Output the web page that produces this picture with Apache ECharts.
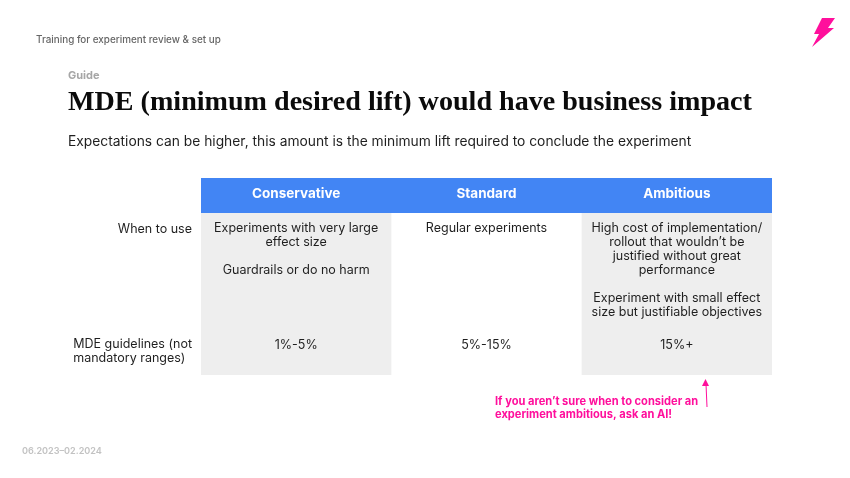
<!DOCTYPE html>
<html>
<head>
<meta charset="utf-8">
<script src="https://cdn.jsdelivr.net/npm/echarts@6/dist/echarts.min.js"></script>
<style>
  html, body { margin: 0; padding: 0; background: #fff; }
  #chart { width: 850px; height: 478px; }
</style>
</head>
<body>
<div id="chart"></div>
<script>
const categories = ['Conservative', 'Standard', 'Ambitious'];
const headerBand = [35, 35, 35];
const bodyBand = [162, 162, 162];
const shaded = [true, false, true];

const whenToUse = [
  'Experiments with very large\neffect size\n\nGuardrails or do no harm',
  'Regular experiments',
  'High cost of implementation/\nrollout that wouldn\u2019t be\njustified without great\nperformance\n\nExperiment with small effect\nsize but justifiable objectives'
];
const mdeRanges = ['1%-5%', '5%-15%', '15%+'];
const rowLabels = ['When to use', 'MDE guidelines (not\nmandatory ranges)'];

const SANS = 'Inter, "Open Sans", sans-serif';
const BODY_SIZE = 12.5;

const chart = echarts.init(document.getElementById('chart'));

// writes one row of cell text, y is in table units measured up from the bottom edge
function cellText(name, texts, y) {
  return {
    type: 'custom',
    name: name,
    silent: true,
    z: 10,
    data: texts.map((t, i) => [i, y]),
    encode: { x: 0, y: 1 },
    renderItem: (params, api) => {
      const p = api.coord([api.value(0), api.value(1)]);
      return {
        type: 'text',
        x: p[0],
        y: p[1],
        style: {
          text: texts[params.dataIndex],
          fill: '#1f1f1f',
          font: BODY_SIZE + 'px ' + SANS,
          lineHeight: 14,
          align: 'center',
          verticalAlign: 'top'
        }
      };
    }
  };
}

const sideText = (text, top) => ({
  type: 'text', right: 850 - 192, top: top,
  style: { text: text, fill: '#1f1f1f', font: BODY_SIZE + 'px ' + SANS, lineHeight: 14, align: 'right' }
});

chart.setOption({
  animation: false,
  backgroundColor: '#ffffff',
  grid: { left: 201, top: 178, width: 571, height: 197 },
  xAxis: {
    type: 'category', data: categories, position: 'top', z: 20,
    axisLine: { show: false }, axisTick: { show: false }, splitLine: { show: false },
    axisLabel: { inside: true, margin: 9, color: '#ffffff', fontFamily: SANS, fontSize: 13.5, fontWeight: 700 }
  },
  yAxis: { type: 'value', min: 0, max: 197, show: false },
  series: [
    {
      type: 'bar', barWidth: '100%', silent: true,
      data: bodyBand.map((v, i) => ({ value: v, itemStyle: { color: shaded[i] ? '#eeeeee' : 'rgba(0,0,0,0)' } }))
    },
    {
      // header cells snap to whole pixels so no seam shows between them
      type: 'custom',
      silent: true,
      z: 5,
      data: headerBand.map((v, i) => [i, bodyBand[i] + v, v]),
      encode: { x: 0, y: 1 },
      renderItem: (params, api) => {
        const p = api.coord([api.value(0), api.value(1)]);
        const s = api.size([1, api.value(2)]);
        const x1 = Math.round(p[0] - s[0] / 2);
        const x2 = Math.round(p[0] + s[0] / 2);
        return {
          type: 'rect',
          shape: { x: x1, y: Math.round(p[1]), width: x2 - x1, height: Math.round(s[1]) },
          style: { fill: '#4285f4' }
        };
      }
    },
    cellText('When to use', whenToUse, 154),
    cellText('MDE guidelines', mdeRanges, 37)
  ],
  graphic: [
    { type: 'text', left: 36, top: 35, style: { text: 'Training for experiment review & set up', fill: '#666666', font: '500 9.9px ' + SANS } },
    { type: 'text', left: 68, top: 70, style: { text: 'Guide', fill: '#a6a6a6', font: '700 11px ' + SANS } },
    { type: 'text', left: 68, top: 89, style: { text: 'MDE (minimum desired lift) would have business impact', fill: '#0b0b0b', font: '700 28.1px "Liberation Serif", serif' } },
    { type: 'text', left: 68, top: 135, style: { text: 'Expectations can be higher, this amount is the minimum lift required to conclude the experiment', fill: '#1f1f1f', font: '13.8px ' + SANS } },
    sideText(rowLabels[0], 222),
    sideText(rowLabels[1], 337),
    { type: 'text', left: 495, top: 395, style: { text: 'If you aren\u2019t sure when to consider an\nexperiment ambitious, ask an AI!', fill: '#ff0f9c', font: '700 11.1px ' + SANS, lineHeight: 13 } },
    { type: 'text', left: 22, top: 447, style: { text: '06.2023\u201302.2024', fill: '#c2c2c2', font: '600 9.1px ' + SANS } },
    { type: 'line', shape: { x1: 707, y1: 407, x2: 706, y2: 384 }, style: { stroke: '#ff0f9c', lineWidth: 1 } },
    { type: 'polygon', shape: { points: [[705.5, 379], [709, 386], [702, 386]] }, style: { fill: '#ff0f9c' } },
    { type: 'polygon', shape: { points: [[822, 18], [835, 18], [828, 28], [834, 28], [812, 47], [819, 34], [814, 34]] }, style: { fill: '#ff0f9c' } }
  ]
});
</script>
</body>
</html>
